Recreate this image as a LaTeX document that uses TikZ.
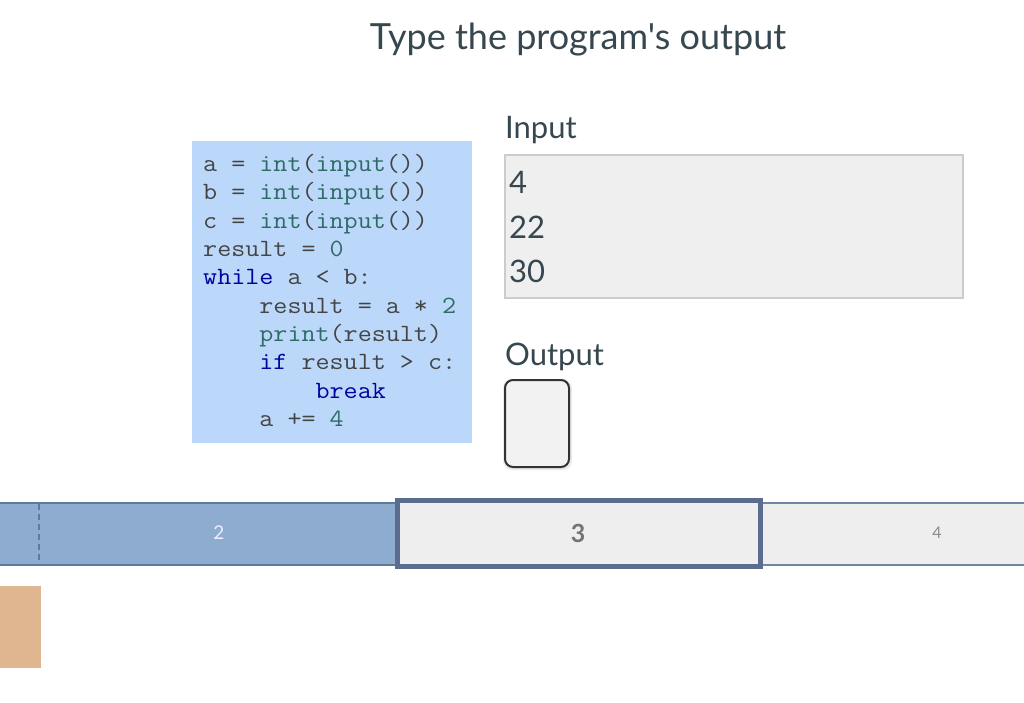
\documentclass[tikz,border=0pt]{standalone}
\usepackage{fontspec}
\setmainfont{Lato}[Ligatures=TeXOff]
\definecolor{titlec}{HTML}{37474F}
\definecolor{codebg}{HTML}{BBD8FA}
\definecolor{codegray}{HTML}{444444}
\definecolor{codeteal}{HTML}{2E6B66}
\definecolor{codeblue}{HTML}{0000A0}
\definecolor{inbg}{HTML}{EFEFEF}
\definecolor{inborder}{HTML}{CCCCCC}
\definecolor{outbg}{HTML}{F2F2F2}
\definecolor{barblue}{HTML}{8EABD0}
\definecolor{barline}{HTML}{5F7A9C}
\definecolor{curline}{HTML}{5A6D8E}
\definecolor{barlight}{HTML}{EEEEEE}
\definecolor{orangec}{HTML}{E0B690}
\tikzset{
  codeline/.style={anchor=base west, inner sep=0pt, xscale=1.1, transform shape, font=\fontsize{24.8}{28}\selectfont\ttfamily, text=codegray},
  label/.style={anchor=base west, inner sep=0pt, font=\fontsize{31}{36}\selectfont, text=titlec},
}
\newcommand{\kw}[1]{\textcolor{codeblue}{#1}}
\newcommand{\fn}[1]{\textcolor{codeteal}{#1}}
\begin{document}
\begin{tikzpicture}[x=1pt,y=-1pt]
\useasboundingbox (0,0) rectangle (1024,702);
\fill[white] (0,0) rectangle (1024,702);
% title
\node[anchor=base, inner sep=0pt, font=\fontsize{36}{42}\selectfont, text=titlec] (title) at (578,49) {Type the program's output};
% code box
\fill[codebg] (192,141) rectangle (472,443);
\node[codeline] (l1) at (203,171) {a = \fn{int}(\fn{input}())};
\node[codeline] (l2) at (203,199) {b = \fn{int}(\fn{input}())};
\node[codeline] (l3) at (203,228) {c = \fn{int}(\fn{input}())};
\node[codeline] (l4) at (203,256) {result = \fn{0}};
\node[codeline] (l5) at (203,284) {\kw{while} a < b:};
\node[codeline] (l6) at (203,313) {\hphantom{xxxx}result = a * \fn{2}};
\node[codeline] (l7) at (203,341) {\hphantom{xxxx}\fn{print}(result)};
\node[codeline] (l8) at (203,369) {\hphantom{xxxx}\kw{if} result > c:};
\node[codeline] (l9) at (203,398) {\hphantom{xxxxxxxx}\kw{break}};
\node[codeline] (l10) at (203,426) {\hphantom{xxxx}a += \fn{4}};
% input
\node[label] (inlabel) at (505,138) {Input};
\draw[inborder, line width=2pt, fill=inbg] (505,155) rectangle (963,298);
\node[label] (in1) at (509,193) {4};
\node[label] (in2) at (509,238) {22};
\node[label] (in3) at (509,282) {30};
% output
\node[label] (outlabel) at (505,365) {Output};
\fill[black!8, rounded corners=9pt] (503,379) rectangle (572,470);
\draw[black!80, line width=2pt, fill=outbg, rounded corners=8pt] (505,380) rectangle (569,467);
% bottom bar
\fill[barblue] (0,503) rectangle (396,565);
\draw[barline, line width=2pt] (0,503) -- (396,503) (0,565) -- (396,565);
\draw[barline, line width=2pt, dash pattern=on 6pt off 4pt] (39,504) -- (39,564);
\node[font=\fontsize{19}{22}\selectfont, text=white!93!blue] (s2) at (219,533) {2};
\fill[barlight] (763,503) rectangle (1024,565);
\draw[barline!90!white, line width=2pt] (763,503) -- (1024,503) (763,565) -- (1024,565);
\node[font=\fontsize{16}{20}\selectfont, text=black!45] (s4) at (937,533) {4};
\draw[curline, line width=5pt, fill=barlight] (397.5,500.5) rectangle (760.5,566.5);
\node[font=\fontsize{25}{28}\selectfont\bfseries, text=black!55] (s3) at (578,533) {3};
% orange block
\fill[orangec] (0,586) rectangle (41,668);
\end{tikzpicture}
\end{document}
